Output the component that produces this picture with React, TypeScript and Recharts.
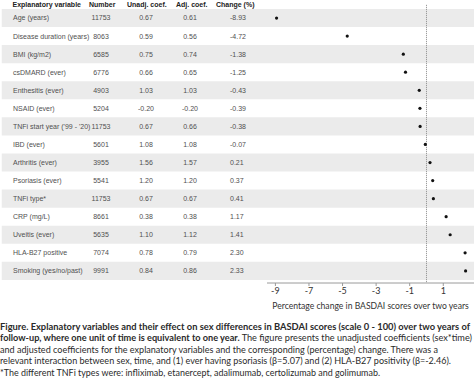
import { ScatterChart, Scatter, XAxis, YAxis, ReferenceArea, ReferenceLine, Customized } from 'recharts'

// table rows (top to bottom)
const variables = [
  'Age (years)',
  'Disease duration (years)',
  'BMI (kg/m2)',
  'csDMARD (ever)',
  'Enthesitis (ever)',
  'NSAID (ever)',
  "TNFi start year ('99 - '20)",
  'IBD (ever)',
  'Arthritis (ever)',
  'Psoriasis (ever)',
  'TNFi type*',
  'CRP (mg/L)',
  'Uveitis (ever)',
  'HLA-B27 positive',
  'Smoking (yes/no/past)',
]
const numbers = [11753, 8063, 6585, 6776, 4903, 5204, 11753, 5601, 3955, 5541, 11753, 8661, 5635, 7074, 9991]
const unadjCoef = [0.67, 0.59, 0.75, 0.66, 1.03, -0.2, 0.67, 1.08, 1.56, 1.2, 0.67, 0.38, 1.1, 0.78, 0.84]
const adjCoef = [0.61, 0.56, 0.74, 0.65, 1.03, -0.2, 0.66, 1.08, 1.57, 1.2, 0.67, 0.38, 1.12, 0.79, 0.86]
const changePct = [-8.93, -4.72, -1.38, -1.25, -0.43, -0.39, -0.38, -0.07, 0.21, 0.37, 0.41, 1.17, 1.41, 2.3, 2.33]

const xTicks = [-9, -7, -5, -3, -1, 1]

const points = changePct.map((v, i) => ({ x: v, y: i + 1 }))
const rowIds = variables.map((_, i) => i + 1)
const shadedRows = rowIds.filter(r => r % 2 === 1)

const TABLE_FONT = '"Liberation Sans", Arial, sans-serif'
const CAPTION_FONT = 'Lato, "Open Sans", sans-serif'

const RowTick = (props: any) => {
  const { y, payload } = props
  const i = payload.value - 1
  if (i < 0 || i >= variables.length) return null
  return (
    <g fontFamily={TABLE_FONT} fontSize={7} fill="#505050">
      <text x={13} y={y} dy="0.35em">{variables[i]}</text>
      <text x={101} y={y} dy="0.35em" textAnchor="middle">{numbers[i]}</text>
      <text x={146} y={y} dy="0.35em" textAnchor="middle">{unadjCoef[i].toFixed(2)}</text>
      <text x={190} y={y} dy="0.35em" textAnchor="middle">{adjCoef[i].toFixed(2)}</text>
      <text x={230} y={y} dy="0.35em">{changePct[i].toFixed(2)}</text>
    </g>
  )
}

// small black dot, placed by the chart's scales
const Dot = (props: any) => <circle cx={props.cx} cy={props.cy} r={1.6} fill="#111" />

const Header = () => (
  <g fontFamily={TABLE_FONT} fontSize={7} fontWeight="bold" fill="#222">
    <text x={12.5} y={6.5}>Explanatory variable</text>
    <text x={89} y={6.5}>Number</text>
    <text x={127} y={6.5}>Unadj. coef.</text>
    <text x={176} y={6.5}>Adj. coef.</text>
    <text x={216} y={6.5}>Change (%)</text>
  </g>
)

const Caption = () => (
  <g fontFamily={CAPTION_FONT} fontSize={9.3} fill="#2a2a2a">
    <text x={0} y={329.5} textLength={470} lengthAdjust="spacingAndGlyphs" fontWeight="bold">
      Figure. Explanatory variables and their effect on sex differences in BASDAI scores (scale 0 - 100) over two years of
    </text>
    <text x={0} y={341} textLength={472} lengthAdjust="spacingAndGlyphs">
      <tspan fontWeight="bold">follow-up, where one unit of time is equivalent to one year.</tspan>
      <tspan> The figure presents the unadjusted coefficients (sex*time)</tspan>
    </text>
    <text x={0} y={352.5} textLength={438} lengthAdjust="spacingAndGlyphs">
      and adjusted coefficients for the explanatory variables and the corresponding (percentage) change. There was a
    </text>
    <text x={0} y={364} textLength={451} lengthAdjust="spacingAndGlyphs">
      relevant interaction between sex, time, and (1) ever having psoriasis (β=5.07) and (2) HLA-B27 positivity (β=-2.46).
    </text>
    <text x={0} y={375.5} textLength={380} lengthAdjust="spacingAndGlyphs">
      *The different TNFi types were: infliximab, etanercept, adalimumab, certolizumab and golimumab.
    </text>
  </g>
)

export default function App() {
  return (
    <div style={{ position: 'absolute', left: 0, top: 0, width: 474, height: 378, background: '#fff' }}>
      <ScatterChart width={474} height={378} margin={{ top: 9, right: 0, bottom: 65, left: 0 }}>
        {shadedRows.map(r => (
          <ReferenceArea
            key={r}
            x1={-25.3}
            x2={2.83}
            y1={r - 0.5}
            y2={r + 0.5}
            fill="#ebebeb"
            fillOpacity={1}
            stroke="none"
            ifOverflow="visible"
          />
        ))}
        <ReferenceLine
          segment={[{ x: 0, y: 0.27 }, { x: 0, y: 15.67 }]}
          stroke="#8a8a8a"
          strokeDasharray="1 1"
          ifOverflow="visible"
        />
        <XAxis
          type="number"
          dataKey="x"
          domain={[-9.5, 2.83]}
          ticks={xTicks}
          allowDataOverflow
          height={30}
          tickSize={3}
          tickMargin={2}
          stroke="#9a9a9a"
          tick={{ fill: '#333', fontSize: 9, fontFamily: CAPTION_FONT }}
          label={{
            value: 'Percentage change in BASDAI scores over two years',
            position: 'insideBottom',
            offset: 4,
            fill: '#333',
            fontSize: 8.6,
            fontFamily: CAPTION_FONT,
          }}
        />
        <YAxis
          type="number"
          dataKey="y"
          domain={[0.5, 15.67]}
          ticks={rowIds}
          interval={0}
          reversed
          allowDataOverflow
          width={267}
          axisLine={false}
          tickLine={false}
          tick={<RowTick />}
        />
        <Scatter data={points} fill="#111" shape={<Dot />} isAnimationActive={false} legendType="none" />
        <Customized component={Header} />
        <Customized component={Caption} />
      </ScatterChart>
    </div>
  )
}
